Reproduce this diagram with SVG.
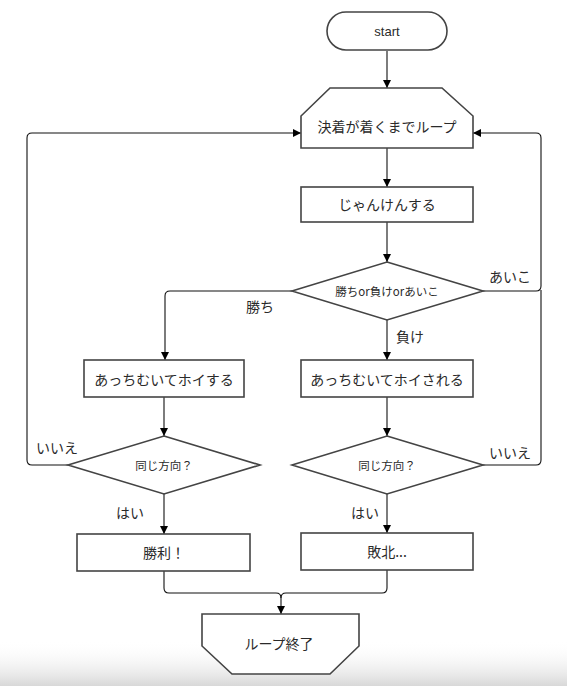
<svg xmlns="http://www.w3.org/2000/svg" width="567" height="686" viewBox="0 0 567 686">
<defs>
<marker id="ah" viewBox="0 0 10 10" refX="10" refY="5" markerWidth="8" markerHeight="8" markerUnits="userSpaceOnUse" orient="auto">
<path d="M0,0 L10,5 L0,10 z" fill="#000"/>
</marker>
<linearGradient id="bg" x1="0" y1="0" x2="0" y2="1">
<stop offset="0" stop-color="#ffffff" stop-opacity="0"/>
<stop offset="1" stop-color="#d8d8d8"/>
</linearGradient>
<style>
.n{fill:#fff;stroke:#444;stroke-width:1.6}
.c{fill:none;stroke:#111;stroke-width:1.1;marker-end:url(#ah)}
.c2{fill:none;stroke:#111;stroke-width:1.1}
text{font-family:"Noto Sans CJK JP","Liberation Sans",sans-serif;fill:#2a2a2a;text-anchor:middle;dominant-baseline:central}
.t{font-size:14px}
.s{font-size:11.5px}
.l{font-size:14px}
</style>
</defs>
<rect x="0" y="0" width="567" height="686" fill="#fff"/>
<rect x="0" y="640" width="567" height="46" fill="url(#bg)"/>
<g id="connectors">
<path class="c" d="M387,51 V88"/>
<path class="c" d="M387,148 V187"/>
<path class="c" d="M387,222 V262"/>
<path class="c" d="M387,320 V360"/>
<path class="c" d="M292,291 H170 Q165,291 165,296 V360"/>
<path class="c" d="M483,291 H536 Q541,291 541,286 V138 Q541,133 536,133 H473"/>
<path class="c" d="M164,397 V436"/>
<path class="c" d="M387,397 V436"/>
<path class="c" d="M68,465 H32 Q27,465 27,460 V138 Q27,133 32,133 H301"/>
<path class="c2" d="M483,465 H536 Q541,465 541,460 V290"/>
<path class="c" d="M164,494 V534"/>
<path class="c" d="M387,494 V533"/>
<path class="c" d="M164,571 V588 Q164,593 169,593 H276 Q281,593 281,598 V614"/>
<path class="c2" d="M387,570 V588 Q387,593 382,593 H286 Q281,593 281,598"/>
</g>
<g id="start"><rect class="n" x="327" y="12" width="120" height="38" rx="19"/><text class="t" x="387" y="31" style="font-family:'Liberation Sans',sans-serif;font-size:13px">start</text></g>
<g id="loop-start"><path class="n" d="M301,148 V116 L330,88 H442 L473,116 V148 Z"/><text class="t" x="387" y="126">決着が着くまでループ</text></g>
<g id="janken"><rect class="n" x="301" y="187" width="172" height="35"/><text class="t" x="387" y="204">じゃんけんする</text></g>
<g id="result"><path class="n" d="M387,262 L483,291 L387,320 L292,291 Z"/><text class="s" x="387" y="291">勝ちor負けorあいこ</text></g>
<g id="acchi-suru"><rect class="n" x="84" y="360" width="160" height="37"/><text class="t" x="164" y="379">あっちむいてホイする</text></g>
<g id="acchi-sareru"><rect class="n" x="301" y="360" width="172" height="37"/><text class="t" x="387" y="379">あっちむいてホイされる</text></g>
<g id="same-left"><path class="n" d="M164,436 L260,465 L164,494 L68,465 Z"/><text class="s" x="164" y="465">同じ方向？</text></g>
<g id="same-right"><path class="n" d="M387,436 L483,465 L387,494 L292,465 Z"/><text class="s" x="387" y="465">同じ方向？</text></g>
<g id="win"><rect class="n" x="77" y="534" width="173" height="37"/><text class="t" x="164" y="552">勝利！</text></g>
<g id="lose"><rect class="n" x="301" y="533" width="172" height="37"/><text class="t" x="387" y="551">敗北...</text></g>
<g id="loop-end"><path class="n" d="M202,614 H359 V646 L330,674 H232 L202,646 Z"/><text class="t" x="279" y="643">ループ終了</text></g>
<g id="labels">
<text class="l" x="260" y="306">勝ち</text>
<text class="l" x="510" y="276">あいこ</text>
<text class="l" x="410" y="336">負け</text>
<text class="l" x="57" y="447">いいえ</text>
<text class="l" x="510" y="452">いいえ</text>
<text class="l" x="130" y="512">はい</text>
<text class="l" x="365" y="512">はい</text>
</g>
</svg>
